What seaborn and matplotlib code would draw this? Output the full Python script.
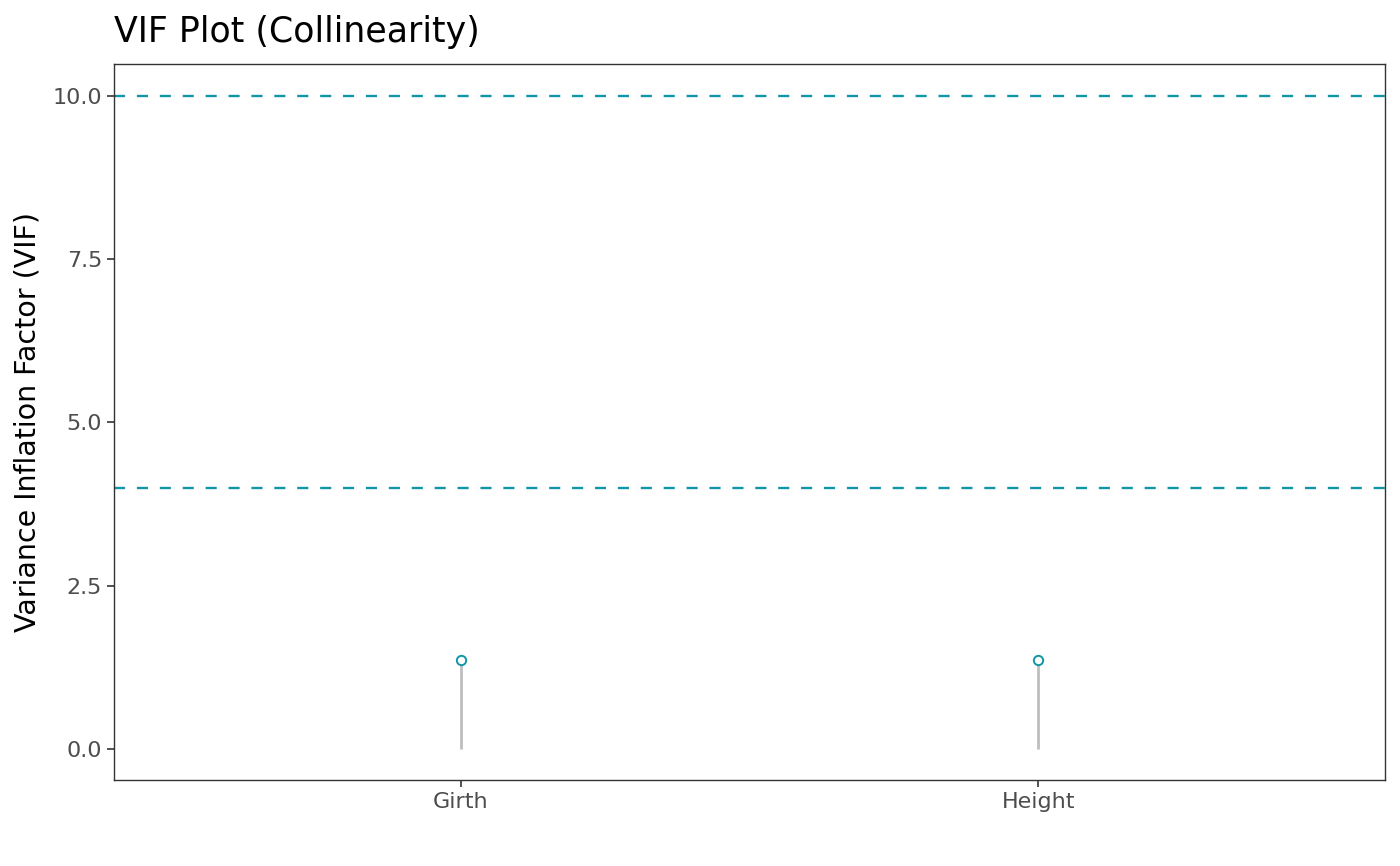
import seaborn as sns
import matplotlib.pyplot as plt
import pandas as pd

# VIF values per predictor
predictors = ["Girth", "Height"]
vif_values = [1.37, 1.37]
thresholds = [4, 10]
y_ticks = [0.0, 2.5, 5.0, 7.5, 10.0]

teal = "#1196a6"

sns.set_theme(style="white")
plt.rcParams["font.family"] = ["DejaVu Sans"]

df = pd.DataFrame({"predictor": predictors, "vif": vif_values})
df["pos"] = range(1, len(df) + 1)

fig = plt.figure(figsize=(14, 8.66), dpi=100)
ax = fig.add_axes([0.0814, 0.0993, 0.9079, 0.8268])

# stems
ax.vlines(df["pos"], 0, df["vif"], color="#bebebe", linewidth=2, zorder=1)
for t in thresholds:
    ax.axhline(t, color=teal, linestyle=(0, (4.7, 5.0)), linewidth=1.7, zorder=0)

sns.scatterplot(data=df, x="pos", y="vif", ax=ax, s=45, marker="o",
                facecolor="white", edgecolor=teal, linewidth=1.4, zorder=3,
                legend=False)

ax.set_xlim(0.4, 2.6)
ax.set_ylim(-0.475, 10.49)
ax.set_xticks(df["pos"])
ax.set_xticklabels(predictors)
ax.set_yticks(y_ticks)
ax.set_yticklabels([f"{v:.1f}" for v in y_ticks])
ax.tick_params(axis="both", labelsize=16, labelcolor="#4d4d4d", length=5,
               width=1.2, color="#333333", bottom=True, left=True)
ax.set_xlabel("")
ax.set_ylabel("Variance Inflation Factor (VIF)", fontsize=20.5, labelpad=8,
              color="black")
ax.set_title("VIF Plot (Collinearity)", fontsize=25, loc="left", x=0.0, pad=16,
             color="black")
for s in ax.spines.values():
    s.set_color("#333333")
    s.set_linewidth(1)

fig.savefig("out.png", dpi=100)
